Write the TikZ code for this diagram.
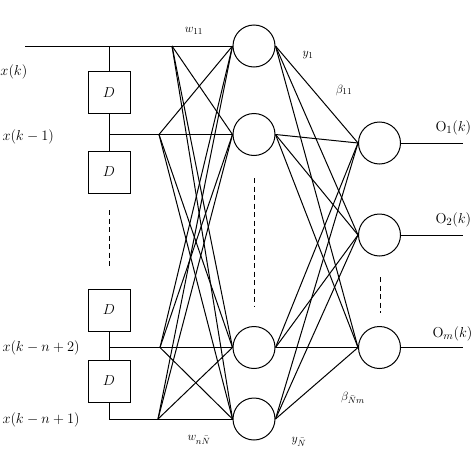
\documentclass[tikz,border=0pt]{standalone}
\begin{document}
\begin{tikzpicture}[x=1pt,y=-1pt,line width=1pt,
  neuron/.style={circle,draw,minimum size=42pt,inner sep=0pt},
  delaybox/.style={draw,minimum width=42pt,minimum height=42pt,inner sep=0pt,font=\fontsize{15}{17}\selectfont},
  lbl/.style={font=\fontsize{14}{16}\selectfont,inner sep=0pt},
  sublbl/.style={font=\fontsize{13}{15}\selectfont,inner sep=0pt},
  outlbl/.style={font=\fontsize{15}{17}\selectfont,inner sep=0pt},
  dots/.style={dash pattern=on 5pt off 3.5pt}]
\useasboundingbox (0,0) rectangle (474,474);
% hidden neurons
\node[neuron] (h1) at (254,46) {};
\node[neuron] (h2) at (254,134.5) {};
\node[neuron] (h3) at (254,347.5) {};
\node[neuron] (h4) at (254,419) {};
% output neurons
\node[neuron] (o1) at (379.5,143) {};
\node[neuron] (o2) at (379.5,235) {};
\node[neuron] (om) at (379.5,347.5) {};
% delay boxes
\node[delaybox] (d1) at (109,92.5) {$D$};
\node[delaybox] (d2) at (109,172) {$D$};
\node[delaybox] (d3) at (109,310) {$D$};
\node[delaybox] (d4) at (109,381) {$D$};
% coordinates
\coordinate (in0) at (25,46);
\coordinate (j0) at (109,46);
\coordinate (f0) at (172,46);
\coordinate (j1) at (109,134.5);
\coordinate (f1) at (159,134.5);
\coordinate (j2) at (109,347.5);
\coordinate (f2) at (160,347.5);
\coordinate (j3) at (109,419);
\coordinate (f3) at (158,419);
\coordinate (ds1) at (109,210);
\coordinate (ds2) at (109,268);
\coordinate (hs1) at (254.5,178);
\coordinate (hs2) at (254.5,307);
\coordinate (os1) at (380,277);
\coordinate (os2) at (380,313);
\coordinate (e1) at (463,143);
\coordinate (e2) at (463,235);
\coordinate (em) at (463,347.5);
% input lines
\draw (in0) -- (h1.west);
\draw (j0) -- (d1.north);
\draw (d1.south) -- (d2.north);
\draw (j1) -- (h2.west);
\draw (d3.south) -- (d4.north);
\draw (j2) -- (h3.west);
\draw (d4.south) -- (j3) -- (h4.west);
\draw[dots] (ds1) -- (ds2);
% fan connections
\foreach \h in {h2,h3,h4} \draw (f0) -- (\h.west);
\foreach \h in {h1,h3,h4} \draw (f1) -- (\h.west);
\foreach \h in {h1,h2,h4} \draw (f2) -- (\h.west);
\foreach \h in {h1,h2,h3} \draw (f3) -- (\h.west);
% hidden to output
\foreach \h in {h1,h2,h3,h4}
  \foreach \o in {o1,o2,om}
    \draw (\h.east) -- (\o.west);
\draw[dots] (hs1) -- (hs2);
\draw[dots] (os1) -- (os2);
% outputs
\draw (o1.east) -- (e1);
\draw (o2.east) -- (e2);
\draw (om.east) -- (em);
% labels
\node[lbl,anchor=west] (lx0) at (0,72) {$x(k)$};
\node[lbl,anchor=west] (lx1) at (2,137) {$x(k-1)$};
\node[lbl,anchor=west] (lx2) at (2,348) {$x(k-n+2)$};
\node[lbl,anchor=west] (lx3) at (2,420) {$x(k-n+1)$};
\node[sublbl] (lw1) at (194,31) {$w_{11}$};
\node[sublbl] (lw2) at (199,440) {$w_{n\bar{N}}$};
\node[sublbl] (ly1) at (308,55) {$y_1$};
\node[sublbl] (ly2) at (299,442) {$y_{\bar{N}}$};
\node[sublbl] (lb1) at (344,90) {$\beta_{11}$};
\node[sublbl] (lb2) at (353,398) {$\beta_{\bar{N}m}$};
\node[outlbl,anchor=west] (lo1) at (435,128) {$\mathrm{O}_1(k)$};
\node[outlbl,anchor=west] (lo2) at (435,220) {$\mathrm{O}_2(k)$};
\node[outlbl,anchor=west] (lom) at (432,334) {$\mathrm{O}_m(k)$};
\end{tikzpicture}
\end{document}
